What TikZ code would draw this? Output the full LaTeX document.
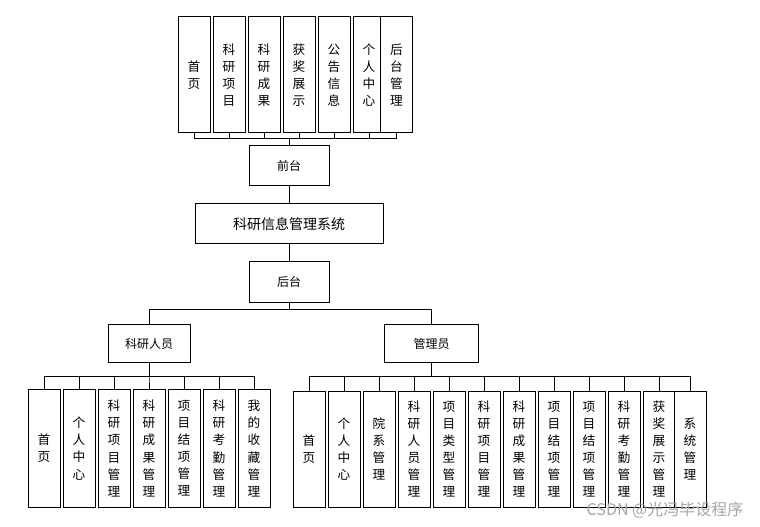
\documentclass[tikz,border=0pt]{standalone}
\usepackage{fontspec}
\setmainfont{Noto Sans CJK SC}
\begin{document}
\begin{tikzpicture}[x=0.75pt,y=-0.75pt,
  vbox/.style={draw=black,line width=0.75pt,fill=white,minimum width=24pt,inner sep=0pt,align=center,font=\fontsize{9.5}{12.8}\selectfont},
  hbox/.style={draw=black,line width=0.75pt,fill=white,inner sep=0pt,font=\fontsize{9}{11}\selectfont},
  ln/.style={draw=black,line width=0.7pt}]
\useasboundingbox (0,0) rectangle (760,527);
% top row
\foreach \n/\x/\t in {t1/194/首\\页, t2/229/科\\研\\项\\目, t3/264/科\\研\\成\\果, t4/299/获\\奖\\展\\示, t5/334/公\\告\\信\\息, t6/369/个\\人\\中\\心, t7/396.5/后\\台\\管\\理}
  \node[vbox,minimum height=87pt] (\n) at (\x,75) {\t};
\node[hbox,minimum width=60pt,minimum height=30pt] (ft) at (289,166) {前台};
\node[hbox,minimum width=141pt,minimum height=30pt,font=\fontsize{10.5}{12}\selectfont] (sys) at (289,224) {科研信息管理系统};
\node[hbox,minimum width=60pt,minimum height=30pt] (bt) at (289,282) {后台};
\node[hbox,minimum width=61.5pt,minimum height=28pt] (ry) at (149,343.5) {科研人员};
\node[hbox,minimum width=70pt,minimum height=28pt] (gl) at (431.5,343.5) {管理员};
% left row
\foreach \n/\x/\t in {a1/44/首\\页, a2/79/个\\人\\中\\心, a3/114/科\\研\\项\\目\\管\\理, a4/149/科\\研\\成\\果\\管\\理, a5/184/项\\目\\结\\项\\管\\理, a6/219/科\\研\\考\\勤\\管\\理, a7/254/我\\的\\收\\藏\\管\\理}
  \node[vbox,minimum height=88pt] (\n) at (\x,448.5) {\t};
% right row
\foreach \n/\x/\t in {b1/309/首\\页, b2/344/个\\人\\中\\心, b3/379/院\\系\\管\\理, b4/414/科\\研\\人\\员\\管\\理, b5/449/项\\目\\类\\型\\管\\理, b6/484/科\\研\\项\\目\\管\\理, b7/519/科\\研\\成\\果\\管\\理, b8/554/项\\目\\结\\项\\管\\理, b9/589/项\\目\\结\\项\\管\\理, b10/624/科\\研\\考\\勤\\管\\理, b11/659/获\\奖\\展\\示\\管\\理, b12/690/系\\统\\管\\理}
  \node[vbox,minimum height=87pt] (\n) at (\x,449) {\t};
% connectors
\foreach \n in {t1,t2,t3,t4,t5,t6,t7} \draw[ln] (\n.south) -- ++(0,5) -| (ft.north);
\draw[ln] (ft) -- (sys);
\draw[ln] (sys) -- (bt);
\draw[ln] (bt.south) -- ++(0,7) -| (ry.north);
\draw[ln] (bt.south) -- ++(0,7) -| (gl.north);
\foreach \n in {a1,a2,a3,a4,a5,a6,a7} \draw[ln] (ry.south) -- ++(0,14) -| (\n.north);
\foreach \n in {b1,b2,b3,b4,b5,b6,b7,b8,b9,b10,b11,b12} \draw[ln] (gl.south) -- ++(0,14) -| (\n.north);
\node[text=gray!70,font=\fontsize{12}{14}\selectfont,anchor=east] (wm) at (748,510) {CSDN @光冯毕设程序};
\end{tikzpicture}
\end{document}
